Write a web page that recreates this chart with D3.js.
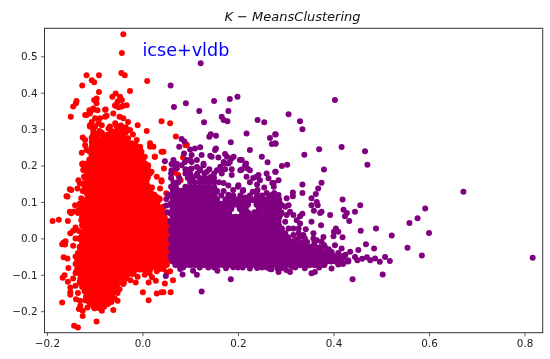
<!DOCTYPE html>
<html>
<head>
<meta charset="utf-8">
<script src="https://d3js.org/d3.v7.min.js"></script>
<style>
  html, body { margin: 0; padding: 0; background: #fff; }
  svg { display: block; filter: blur(0.4px); }
  text { font-family: "DejaVu Sans", sans-serif; }
</style>
</head>
<body>
<svg id="chart" width="550" height="359"></svg>
<script>
const xTicks = [-0.2, 0, 0.2, 0.4, 0.6, 0.8];
const yTicks = [-0.2, -0.1, 0, 0.1, 0.2, 0.3, 0.4, 0.5];
const chartTitle = "K \u2212 MeansClustering";
const noteText = "icse+vldb";

// solid part of cluster 1: [y, x, x, ...] estimated from the filled shape, single points can't be read there
const redCoreRows = [
  [.276, -.105,-.095,-.06,-.05,-.04],
  [.264, -.1,-.09,-.08,-.065,-.055,-.045,-.035],
  [.252, -.105,-.095,-.085,-.075,-.065,-.055,-.045,-.035,-.025,-.015],
  [.24, -.11,-.1,-.09,-.08,-.07,-.06,-.05,-.04,-.03,-.02,-.01],
  [.228, -.105,-.095,-.085,-.075,-.065,-.055,-.045,-.035,-.025,-.015,-.005],
  [.216, -.11,-.1,-.09,-.08,-.07,-.06,-.05,-.04,-.03,-.02,-.01,0],
  [.204, -.125,-.115,-.105,-.095,-.085,-.075,-.065,-.055,-.045,-.035,-.025,-.015,-.005,.005],
  [.192, -.12,-.11,-.1,-.09,-.08,-.07,-.06,-.05,-.04,-.03,-.02,-.01,0,.01],
  [.18, -.115,-.105,-.095,-.085,-.075,-.065,-.055,-.045,-.035,-.025,-.015,-.005,.005,.015],
  [.168, -.12,-.11,-.1,-.09,-.08,-.07,-.06,-.05,-.04,-.03,-.02,-.01,0,.01],
  [.156, -.115,-.105,-.095,-.085,-.075,-.065,-.055,-.045,-.035,-.025,-.015,-.005,.005],
  [.144, -.12,-.11,-.1,-.09,-.08,-.07,-.06,-.05,-.04,-.03,-.02,-.01,0,.01],
  [.132, -.115,-.105,-.095,-.085,-.075,-.065,-.055,-.045,-.035,-.025,-.015,-.005,.005,.015],
  [.12, -.11,-.1,-.09,-.08,-.07,-.06,-.05,-.04,-.03,-.02,-.01,0,.01,.02],
  [.108, -.115,-.105,-.095,-.085,-.075,-.065,-.055,-.045,-.035,-.025,-.015,-.005,.005,.015,.025,.035],
  [.096, -.12,-.11,-.1,-.09,-.08,-.07,-.06,-.05,-.04,-.03,-.02,-.01,0,.01,.02,.03],
  [.084, -.125,-.115,-.105,-.095,-.085,-.075,-.065,-.055,-.045,-.035,-.025,-.015,-.005,.005,.015,.025,.035],
  [.072, -.12,-.11,-.1,-.09,-.08,-.07,-.06,-.05,-.04,-.03,-.02,-.01,0,.01,.02,.03,.04],
  [.06, -.125,-.115,-.105,-.095,-.085,-.075,-.065,-.055,-.045,-.035,-.025,-.015,-.005,.005,.015,.025,.035,.045],
  [.048, -.12,-.11,-.1,-.09,-.08,-.07,-.06,-.05,-.04,-.03,-.02,-.01,0,.01,.02,.03,.04,.05],
  [.036, -.125,-.115,-.105,-.095,-.085,-.075,-.065,-.055,-.045,-.035,-.025,-.015,-.005,.005,.015,.025,.035,.045,.055],
  [.024, -.12,-.11,-.1,-.09,-.08,-.07,-.06,-.05,-.04,-.03,-.02,-.01,0,.01,.02,.03,.04,.05],
  [.012, -.125,-.115,-.105,-.095,-.085,-.075,-.065,-.055,-.045,-.035,-.025,-.015,-.005,.005,.015,.025,.035,.045,.055],
  [0, -.13,-.12,-.11,-.1,-.09,-.08,-.07,-.06,-.05,-.04,-.03,-.02,-.01,0,.01,.02,.03,.04,.05],
  [-.012, -.125,-.115,-.105,-.095,-.085,-.075,-.065,-.055,-.045,-.035,-.025,-.015,-.005,.005,.015,.025,.035,.045,.055],
  [-.024, -.13,-.12,-.11,-.1,-.09,-.08,-.07,-.06,-.05,-.04,-.03,-.02,-.01,0,.01,.02,.03,.04,.05],
  [-.036, -.125,-.115,-.105,-.095,-.085,-.075,-.065,-.055,-.045,-.035,-.025,-.015,-.005,.005,.015,.025,.035,.045,.055],
  [-.048, -.13,-.12,-.11,-.1,-.09,-.08,-.07,-.06,-.05,-.04,-.03,-.02,-.01,0,.01,.02,.03,.04,.05],
  [-.06, -.135,-.125,-.115,-.105,-.095,-.085,-.075,-.065,-.055,-.045,-.035,-.025,-.015,-.005,.005,.015,.025,.035,.045,.055],
  [-.072, -.13,-.12,-.11,-.1,-.09,-.08,-.07,-.06,-.05,-.04,-.03,-.02,-.01,0,.01,.02,.03,.04,.05],
  [-.084, -.135,-.125,-.115,-.105,-.095,-.085,-.075,-.065,-.055,-.045,-.035,-.025,-.015,-.005,.005,.015],
  [-.096, -.13,-.12,-.11,-.1,-.09,-.08,-.07,-.06,-.05,-.04,-.03,-.02],
  [-.108, -.125,-.115,-.105,-.095,-.085,-.075,-.065,-.055,-.045,-.035],
  [-.12, -.13,-.12,-.11,-.1,-.09,-.08,-.07,-.06,-.05,-.04],
  [-.132, -.125,-.115,-.105,-.095,-.085,-.075,-.065,-.055],
  [-.144, -.12,-.11,-.1,-.09,-.08,-.07,-.06],
  [-.156, -.115,-.105,-.095,-.085,-.075,-.065],
  [-.168, -.11,-.1,-.09,-.08,-.07],
  [-.18, -.105,-.095,-.085],
  [-.19, -.1,-.09]
];

// readable outliers of cluster 1: [x, y]
const redScatter = [
  [-.04,.561],[-.043,.509],[-.044,.454],[-.037,.448],[.01,.432],[-.117,.448],[-.091,.448],[-.126,.42],[-.106,.434],[-.101,.429],
  [-.026,.405],[-.091,.402],[-.138,.377],[-.139,.371],[-.145,.362],[-.15,.334],[-.096,.384],[-.101,.38],[-.096,.371],[-.103,.357],
  [-.056,.398],[-.063,.389],[-.047,.389],[-.043,.38],[-.052,.376],[-.041,.364],[-.057,.366],[-.05,.36],[-.077,.354],[-.075,.337],
  [-.061,.343],[-.111,.352],[-.12,.339],[-.11,.343],[-.094,.352],[-.099,.33],[-.092,.316],[-.085,.311],[-.106,.32],[-.11,.307],
  [-.071,.302],[-.103,.298],[-.1,.288],[-.04,.33],[-.03,.32],[-.048,.334],[-.057,.316],[-.033,.298],[-.05,.298],[-.01,.311],
  [.009,.295],[.04,.322],[.058,.316],[.07,.28],[.09,.256],[-.125,.277],[-.12,.27],[-.117,.243],[-.127,.235],[-.075,.284],
  [-.068,.279],[-.05,.284],[-.089,.27],[-.03,.262],[-.005,.252],[.005,.224],[.016,.252],[.023,.252],[.026,.224],[.012,.201],
  [.019,.183],[.03,.169],[.04,.16],[.044,.238],[.04,.156],[.037,.137],[.03,.114],[.05,.124],[.043,.085],[.027,.097],
  [-.124,.188],[-.134,.16],[-.131,.151],[-.152,.135],[-.136,.137],[-.159,.116],[-.141,.091],[-.131,.096],[-.13,.073],[-.188,.048],
  [-.175,.051],[-.156,.048],[-.149,.069],[-.143,.074],[-.134,.078],[-.131,.094],[-.157,.115],[-.149,.133],[-.151,.014],[-.145,.021],
  [-.165,-.011],[-.168,-.016],[-.161,-.008],[-.162,-.017],[-.165,-.052],[-.157,-.055],[-.14,-.05],[-.14,.03],[-.14,.0],[-.145,-.02],
  [-.155,-.081],[-.167,-.108],[-.163,-.101],[-.156,-.119],[-.151,-.135],[-.151,-.148],[-.151,-.155],[-.168,-.176],[-.139,-.167],[-.131,-.171],
  [-.133,-.194],[-.125,-.199],[-.125,-.213],[-.143,-.24],[-.135,-.245],[-.096,-.228],[-.061,-.197],[-.075,-.176],[-.052,-.171],[-.085,-.199],
  [-.14,-.095],[-.145,-.11],[-.14,-.13],[-.135,-.15],[-.13,-.185],[-.12,-.17],[-.115,-.19],
  [-.014,-.121],[.013,-.121],[.02,-.107],[.028,-.116],[.001,-.148],[.013,-.17],[.03,-.151],[.04,-.148],[.044,-.148],[.059,-.148],
  [.047,-.124],[.064,-.115],[.051,-.094],[.044,-.084],[.027,-.08],[.036,-.084],[.058,-.09],[.085,.222],[.068,.18],[.08,.16],
  [-.117,.339],[-.11,.348],[-.103,.353],[-.089,.33],[-.078,.353],[-.078,.334],[-.068,.307],[-.033,.366],[-.057,.364],[-.043,.362],
  [-.026,.298],[-.04,.298],[-.11,.311],[-.099,.307],[-.103,.288],[-.099,.279],[-.106,.265],[-.092,.27],[-.085,.261],[-.12,.256],
  [-.089,.288],[-.082,.275],[-.061,.288],[-.04,.284],[-.03,.275],[-.023,.261],[-.012,.27],[-.015,.247],[-.002,.238],[.016,.261],
  [.04,.238],[.026,.224],[.009,.16],[.023,.114],[.016,.096],[.044,.087],[-.152,.073],[-.124,.151],[-.117,.124],
  [-.09,.295],[-.085,.29],[-.055,.31],[-.045,.31],[-.035,.305],[-.065,.295],[-.055,.295],[-.045,.29],[-.035,.29],[-.02,.285],
  [-.08,.28],[-.07,.285],[-.075,.272],[-.068,.268],[-.015,.26],[-.005,.245],
  [-.128,.05],[-.133,.02],[-.135,-.04],[-.14,-.07],[-.138,-.09],[-.128,.11],[-.125,.13],[-.122,.17],[-.13,-.11],[-.135,.07],
  [.03,-.09],[.015,-.095],[.005,-.1],[-.01,-.105],[-.025,-.115],[-.04,-.125],[-.048,-.14],[-.052,-.15],[-.058,-.165],[-.065,-.175],
  [-.072,-.18],[-.08,-.188],[-.112,-.175],[-.118,-.16],[.02,.14],[.025,.12],[.032,.11],[.035,.07],[.042,.06],
  [.065,.183],[.045,.192],[.075,.174],[.093,.257],[.044,.087]
];

// solid part of cluster 2: [y, x, x, ...] estimated the same way
const purpleCoreRows = [
  [.13, .065,.075,.085,.095,.105,.115,.125,.135,.145,.155],
  [.118, .06,.07,.08,.09,.1,.11,.12,.13,.14,.15],
  [.106, .065,.075,.085,.095,.105,.115,.125,.135,.145,.155,.175,.185,.195,.205,.215,.225,.235,.245,.255,.265,.275,.285],
  [.094, .06,.07,.08,.09,.1,.11,.12,.13,.14,.15,.16,.17,.18,.19,.2,.21,.22,.24,.25,.26,.27,.28],
  [.082, .065,.075,.085,.095,.105,.115,.125,.135,.145,.155,.165,.175,.185,.205,.215,.245,.255,.265,.275,.285],
  [.07, .06,.07,.08,.09,.1,.11,.12,.13,.14,.15,.16,.17,.18,.21,.22,.235,.245,.26,.27,.28,.29],
  [.058, .065,.075,.085,.095,.105,.115,.125,.135,.145,.155,.165,.175,.185,.195,.205,.215,.225,.235,.245,.255,.265,.275,.285],
  [.046, .06,.07,.08,.09,.1,.11,.12,.13,.14,.15,.16,.17,.18,.19,.2,.21,.22,.23,.24,.25,.26,.27,.28],
  [.034, .065,.075,.085,.095,.105,.115,.125,.135,.145,.155,.165,.175,.185,.195,.205,.215,.225,.235,.245,.255,.265,.275,.285],
  [.022, .06,.07,.08,.09,.1,.11,.12,.13,.14,.15,.16,.17,.18,.19,.2,.21,.22,.23,.24,.25,.26,.27,.28,.29],
  [.01, .065,.075,.085,.095,.105,.115,.125,.135,.145,.155,.165,.175,.185,.195,.205,.215,.225,.235,.245,.255,.265,.275,.285,.295],
  [-.002, .06,.07,.08,.09,.1,.11,.12,.13,.14,.15,.16,.17,.18,.19,.2,.21,.22,.23,.24,.25,.26,.27,.28,.29,.3],
  [-.014, .065,.075,.085,.095,.105,.115,.125,.135,.145,.155,.165,.175,.185,.195,.205,.215,.225,.235,.245,.255,.265,.275,.285,.295,.305,.315,.325,.335],
  [-.026, .06,.07,.08,.09,.1,.11,.12,.13,.14,.15,.16,.17,.18,.19,.2,.21,.22,.23,.24,.25,.26,.27,.28,.29,.3,.31,.32,.33,.34,.35,.36,.37],
  [-.038, .065,.075,.085,.095,.105,.115,.125,.135,.145,.155,.165,.175,.185,.195,.205,.215,.225,.235,.245,.255,.265,.275,.285,.295,.305,.315,.325,.335,.345,.355,.365,.375,.385,.395],
  [-.05, .06,.07,.08,.09,.1,.11,.12,.13,.14,.15,.16,.17,.18,.19,.2,.21,.22,.23,.24,.25,.26,.27,.28,.29,.3,.31,.32,.33,.34,.35,.36,.37,.38,.39,.4,.41,.42],
  [-.062, .065,.075,.085,.095,.105,.115,.125,.135,.145,.155,.165,.175,.185,.195,.205,.215,.225,.235,.245,.255,.265,.275,.285,.295,.305,.315,.325,.335,.345,.355,.365,.375,.385,.395,.405,.415,.43],
  [-.072, .07,.08,.09,.1,.11,.12,.13,.14,.15,.16,.17,.18,.19,.2,.21,.22,.23,.24,.25,.26,.27,.28,.29,.3,.31,.32,.33,.34,.35,.36,.37,.38]
];

// readable points of cluster 2: [x, y]
const purpleScatter = [
  [.122,.481],[.059,.42],[.066,.361],[.091,.371],[.15,.377],[.183,.383],[.199,.389],[.119,.35],[.18,.35],[.166,.334],
  [.17,.325],[.178,.322],[.129,.319],[.241,.325],[.255,.319],[.218,.288],[.143,.286],[.14,.279],[.154,.282],[.267,.276],
  [.278,.286],[.271,.259],[.278,.261],[.185,.264],[.082,.273],[.088,.266],[.077,.252],[.154,.247],[.152,.243],[.225,.243],
  [.25,.224],[.262,.209],[.1,.244],[.11,.247],[.121,.25],[.087,.233],[.103,.229],[.124,.229],[.142,.227],[.047,.212],
  [.065,.215],[.061,.204],[.068,.201],[.114,.215],[.093,.215],[.103,.21],[.128,.201],[.159,.222],[.173,.232],[.187,.22],
  [.17,.21],[.18,.206],[.163,.197],[.204,.215],[.217,.206],[.208,.189],[.22,.192],[.187,.174],[.26,.178],[.243,.174],
  [.246,.16],[.264,.165],[.201,.146],[.19,.133],[.211,.133],[.241,.133],[.231,.128],[.26,.125],[.272,.152],[.276,.125],
  [.403,.38],[.306,.341],[.33,.322],[.335,.3],[.279,.285],[.279,.26],[.37,.245],[.417,.251],[.466,.239],[.339,.23],
  [.292,.199],[.303,.202],[.471,.202],[.38,.189],[.279,.183],[.285,.16],[.275,.152],[.275,.142],[.335,.148],[.335,.125],
  [.315,.126],[.315,.116],[.375,.153],[.368,.137],[.363,.122],[.271,.119],[.278,.114],[.285,.119],[.267,.105],[.278,.1],
  [.302,.11],[.292,.091],[.306,.091],[.354,.11],[.365,.1],[.354,.091],[.367,.091],[.359,.076],[.375,.073],[.372,.07],
  [.419,.107],[.456,.091],[.421,.079],[.445,.073],[.428,.07],[.424,.061],[.433,.048],[.393,.064],[.335,.068],[.33,.061],
  [.323,.05],[.33,.041],[.354,.046],[.374,.036],[.342,.025],[.405,.027],[.401,.018],[.41,.018],[.4,.006],[.419,.003],
  [.457,.021],[.489,.027],[.522,.008],[.468,-.016],[.485,-.028],[.358,.014],[.358,0],[.379,.004],[.375,-.009],[.365,-.005],
  [.354,-.023],[.382,-.023],[.403,-.019],[.417,-.028],[.452,-.032],[.435,-.037],[.445,-.051],[.508,-.051],[.518,-.062],[.487,-.055],
  [.477,-.06],[.497,-.064],[.396,-.083],[.354,-.096],[.361,-.092],[.44,-.112],[.503,-.099],[.283,-.083],[.285,-.092],[.301,-.087],
  [.313,-.078],[.309,-.092],[.267,-.084],[.45,-.06],[.46,-.056],[.47,-.052],
  [.299,.087],[.288,.096],[.271,.073],[.309,.073],[.274,.064],[.288,.064],[.302,.064],[.316,.064],[.271,.05],[.285,.046],
  [.299,.046],[.267,.036],[.281,.036],[.292,.027],[.306,.027],[.316,.027],[.327,.027],[.278,.018],[.299,.014],[.288,.009],
  [.316,.009],[.327,.014],[.337,.009],[.274,0],[.295,0],[.327,0],[.34,0],[.319,-.005],[.285,-.005],
  [.672,.128],[.592,.082],[.576,.055],[.559,.042],[.6,.015],[.555,-.026],[.585,-.047],[.817,-.053],
  [.124,-.146],[.185,-.112],[.084,-.099],[.049,-.103],[.114,-.1],[.106,-.089],[.157,-.089],[.138,-.08],[.079,-.084],[.2,-.08],
  [.225,-.083],[.25,-.08],[.27,-.085],[.175,-.082],
  [.061,.187],[.072,.205],[.072,.192],[.082,.201],[.089,.21],[.1,.215],[.103,.192],[.093,.187],[.114,.196],[.128,.205],
  [.121,.187],[.135,.183],[.145,.224],[.177,.224],[.156,.187],[.173,.206],[.183,.21],[.191,.224],[.208,.215],[.215,.201],
  [.225,.187],[.239,.169],[.205,.187],[.166,.178],[.218,.169],[.278,.183],[.077,.166],[.112,.172],[.125,.16],[.145,.17],
  [.31,-.008],[.32,-.006],[.345,-.01],[.36,-.012],[.38,-.018],[.39,-.03],[.41,-.04],[.425,-.045],[.33,.005],[.305,.003],
  [.085,-.08],[.12,-.08],[.15,-.08],[.19,-.079],[.21,-.08],[.24,-.081],[.26,-.08],[.29,-.082],[.32,-.08],[.34,-.082],
  [.37,-.08],[.41,-.072],[.42,-.07],[.35,-.07],
  [.09,.19],[.1,.19],[.12,.19],[.14,.19],[.163,.19],[.173,.19],[.187,.19],[.06,.178],[.09,.178],[.1,.178],[.115,.178],[.13,.178],[.15,.178],
  [.06,.166],[.095,.166],[.105,.166],[.12,.166],[.13,.166],[.14,.166],[.15,.166],[.232,.166],[.065,.154],[.075,.154],[.1,.154],[.11,.154],
  [.12,.154],[.13,.154],[.14,.154],[.15,.154],[.16,.154],[.225,.154],[.06,.142],[.07,.142],[.09,.142],[.1,.142],[.11,.142],[.12,.142],
  [.13,.142],[.14,.142],[.15,.142],[.2,.142],[.21,.13],[.24,.13],[.165,.118],[.19,.118],[.205,.118],[.225,.118],[.25,.118],[.265,.118],
  [.05,.108],[.05,.09],[.052,.072],[.054,.12],[.17,.13],[.18,.12],[.215,.112],[.24,.118],[.17,.152],[.18,.145],[.24,.148],[.255,.14]
];

const rowsToPoints = rows => rows.flatMap(([y, ...xs]) => xs.map(x => [x, y]));

const dim = { width: 550, height: 359, left: 44.5, right: 542.7, top: 28.3, bottom: 332.7 };
const pointRadius = 3;
// core rows stand for many overlapping points, so they get a little more radius to close the gaps
const coreRadius = 3.6;

const svg = d3.select("#chart");

const x = d3.scaleLinear().domain([-0.205, 0.838]).range([dim.left, dim.right]);
const y = d3.scaleLinear().domain([-0.259, 0.577]).range([dim.bottom, dim.top]);

function drawPoints(points, color, radius) {
  svg.append("g")
    .selectAll("circle")
    .data(points)
    .join("circle")
    .attr("cx", d => x(d[0]))
    .attr("cy", d => y(d[1]))
    .attr("r", radius)
    .attr("fill", color);
}

drawPoints(rowsToPoints(redCoreRows), "#ff0000", coreRadius);
drawPoints(redScatter, "#ff0000", pointRadius);
drawPoints(rowsToPoints(purpleCoreRows), "#800080", coreRadius);
drawPoints(purpleScatter, "#800080", pointRadius);

const xAxis = svg.append("g")
  .attr("transform", `translate(0,${dim.bottom})`)
  .call(d3.axisBottom(x).tickValues(xTicks).tickFormat(d3.format(".1f")).tickSize(3.5).tickPadding(3.5));
const yAxis = svg.append("g")
  .attr("transform", `translate(${dim.left},0)`)
  .call(d3.axisLeft(y).tickValues(yTicks).tickFormat(d3.format(".1f")).tickSize(3.5).tickPadding(3.5));

[xAxis, yAxis].forEach(axis => {
  axis.select(".domain").remove();
  axis.selectAll("line").attr("stroke", "#333").attr("stroke-width", 0.8);
  axis.selectAll("text").attr("fill", "#222").attr("font-size", 10.4).attr("font-family", '"DejaVu Sans"');
});

svg.append("rect")
  .attr("x", dim.left)
  .attr("y", dim.top)
  .attr("width", dim.right - dim.left)
  .attr("height", dim.bottom - dim.top)
  .attr("fill", "none")
  .attr("stroke", "#333")
  .attr("stroke-width", 1);

svg.append("text")
  .attr("x", 292.5)
  .attr("y", 21)
  .attr("text-anchor", "middle")
  .attr("font-size", 13)
  .attr("font-style", "italic")
  .attr("fill", "#111")
  .text(chartTitle);

svg.append("text")
  .attr("x", x(0))
  .attr("y", y(0.5))
  .attr("font-size", 17.6)
  .attr("fill", "#0000ff")
  .text(noteText);
</script>
</body>
</html>
